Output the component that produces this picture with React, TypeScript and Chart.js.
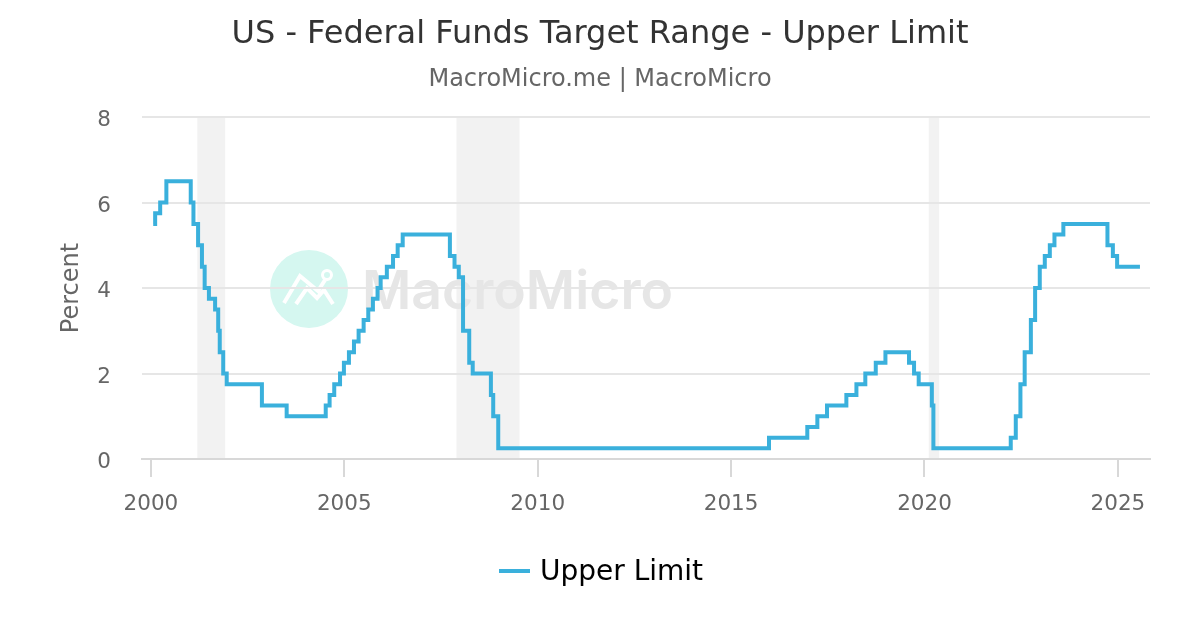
import React, { useEffect, useRef } from "react";
import { Chart, registerables } from "chart.js";

Chart.register(...registerables);

const FONT = "'DejaVu Sans', sans-serif";

const stepDates = [
  2000.06, 2000.11, 2000.24, 2000.4, 2001.03, 2001.1, 2001.22, 2001.32, 2001.39, 2001.5, 2001.66, 2001.74, 2001.78,
  2001.87, 2001.96, 2002.87, 2003.51, 2004.52, 2004.62, 2004.74, 2004.89, 2004.99, 2005.12, 2005.25, 2005.37, 2005.5,
  2005.62, 2005.74, 2005.86, 2005.94, 2006.1, 2006.26, 2006.38, 2006.51, 2007.73, 2007.85, 2007.96, 2008.07, 2008.23,
  2008.32, 2008.79, 2008.85, 2008.98, 2015.98, 2016.97, 2017.23, 2017.48, 2017.98, 2018.24, 2018.47, 2018.74, 2018.99,
  2019.6, 2019.73, 2019.85, 2020.19, 2020.23, 2022.23, 2022.36, 2022.48, 2022.59, 2022.75, 2022.86, 2022.98, 2023.11,
  2023.24, 2023.36, 2023.59, 2024.73, 2024.87, 2024.98, 2025.57,
];
const stepValues = [
  5.5, 5.75, 6, 6.5, 6, 5.5, 5, 4.5, 4, 3.75, 3.5, 3, 2.5, 2, 1.75, 1.25, 1, 1.25, 1.5, 1.75, 2, 2.25, 2.5, 2.75, 3,
  3.25, 3.5, 3.75, 4, 4.25, 4.5, 4.75, 5, 5.25, 4.75, 4.5, 4.25, 3, 2.25, 2, 1.5, 1, 0.25, 0.5, 0.75, 1, 1.25, 1.5,
  1.75, 2, 2.25, 2.5, 2.25, 2, 1.75, 1.25, 0.25, 0.5, 1, 1.75, 2.5, 3.25, 4, 4.5, 4.75, 5, 5.25, 5.5, 5, 4.75, 4.5, 4.5,
];
const recessionStarts = [2001.2, 2007.9, 2020.11];
const recessionEnds = [2001.92, 2009.53, 2020.38];
const xTickValues = [2000, 2005, 2010, 2015, 2020, 2025];
const yTickValues = [0, 2, 4, 6, 8];

const LINE_COLOR = "#3ab0dc";

const recessionBands = {
  id: "recessionBands",
  beforeDraw(chart: any) {
    const { ctx, chartArea, scales } = chart;
    ctx.save();
    ctx.fillStyle = "#f2f2f2";
    recessionStarts.forEach((start, i) => {
      const left = scales.x.getPixelForValue(start);
      const right = scales.x.getPixelForValue(recessionEnds[i]);
      ctx.fillRect(left, chartArea.top, right - left, chartArea.bottom - chartArea.top);
    });
    ctx.restore();
  },
};

const watermark = {
  id: "watermark",
  beforeDraw(chart: any) {
    const { ctx } = chart;
    ctx.save();
    ctx.fillStyle = "#d5f7f0";
    ctx.beginPath();
    ctx.arc(309, 289, 39, 0, Math.PI * 2);
    ctx.fill();
    ctx.strokeStyle = "#ffffff";
    ctx.lineWidth = 4;
    ctx.beginPath();
    ctx.moveTo(284, 303);
    ctx.lineTo(300, 276);
    ctx.lineTo(318, 291);
    ctx.lineTo(325, 280);
    ctx.moveTo(296, 304);
    ctx.lineTo(307, 288);
    ctx.lineTo(317, 298);
    ctx.lineTo(324, 290);
    ctx.lineTo(333, 304);
    ctx.stroke();
    ctx.lineWidth = 3;
    ctx.beginPath();
    ctx.arc(327, 275, 4.5, 0, Math.PI * 2);
    ctx.stroke();
    ctx.fillStyle = "#e6e6e6";
    ctx.font = "600 53.5px Inter, sans-serif";
    ctx.textAlign = "left";
    ctx.textBaseline = "alphabetic";
    ctx.fillText("MacroMicro", 362, 309);
    ctx.restore();
  },
};

export default function App() {
  const ref = useRef<HTMLCanvasElement>(null);
  useEffect(() => {
    document.body.style.margin = "0";
    const legendLine = document.createElement("canvas");
    legendLine.width = 37;
    legendLine.height = 8;
    const legendCtx = legendLine.getContext("2d") as CanvasRenderingContext2D;
    legendCtx.fillStyle = LINE_COLOR;
    legendCtx.fillRect(6, 0, 31, 4);

    const chart = new Chart(ref.current as HTMLCanvasElement, {
      type: "line",
      data: {
        datasets: [
          {
            label: "Upper Limit",
            data: stepDates.map((x, i) => ({ x, y: stepValues[i] })),
            borderColor: LINE_COLOR,
            backgroundColor: LINE_COLOR,
            borderWidth: 4,
            stepped: "before",
            pointRadius: 0,
            fill: false,
          },
        ],
      },
      plugins: [recessionBands, watermark],
      options: {
        animation: false,
        responsive: false,
        layout: { padding: { left: 50, right: 50, top: 0, bottom: 33 } },
        plugins: {
          title: {
            display: true,
            text: "US - Federal Funds Target Range - Upper Limit",
            color: "#333333",
            font: { family: FONT, size: 32, weight: "normal" },
            padding: { top: 15, bottom: 0 },
          },
          subtitle: {
            display: true,
            text: "MacroMicro.me | MacroMicro",
            color: "#666666",
            font: { family: FONT, size: 24, weight: "normal" },
            padding: { top: 11.5, bottom: 23.3 },
          },
          legend: {
            display: true,
            position: "bottom",
            labels: {
              color: "#000000",
              font: { family: FONT, size: 28 },
              usePointStyle: true,
              pointStyle: legendLine,
              pointStyleWidth: 29,
              padding: 10,
            },
          },
          tooltip: { enabled: false },
        },
        scales: {
          x: {
            type: "linear",
            min: 1999.77,
            max: 2025.83,
            afterBuildTicks: (s: any) => {
              s.ticks = xTickValues.map((value) => ({ value }));
            },
            afterFit: (s: any) => {
              s.height = 90;
            },
            ticks: {
              color: "#666666",
              font: { family: FONT, size: 21.5 },
              padding: 15,
              maxRotation: 0,
              callback: (v: any) => String(v),
            },
            grid: { drawOnChartArea: false, color: "#d8d8d8", lineWidth: 2, tickLength: 18 },
            border: { color: "#d8d8d8", width: 2 },
          },
          y: {
            type: "linear",
            min: 0,
            max: 8,
            afterBuildTicks: (s: any) => {
              s.ticks = yTickValues.map((value) => ({ value }));
            },
            afterFit: (s: any) => {
              s.width = 92;
            },
            ticks: {
              color: "#666666",
              font: { family: FONT, size: 21.5 },
              padding: 31,
              labelOffset: 3.5,
            },
            title: {
              display: true,
              text: "Percent",
              color: "#666666",
              font: { family: FONT, size: 24 },
              padding: { top: 7, bottom: 0 },
            },
            grid: { color: "#e6e6e6", lineWidth: 2, drawTicks: false },
            border: { display: false },
          },
        },
      },
    } as any);
    return () => chart.destroy();
  }, []);
  return <canvas ref={ref} width={1200} height={630} style={{ display: "block" }} />;
}
